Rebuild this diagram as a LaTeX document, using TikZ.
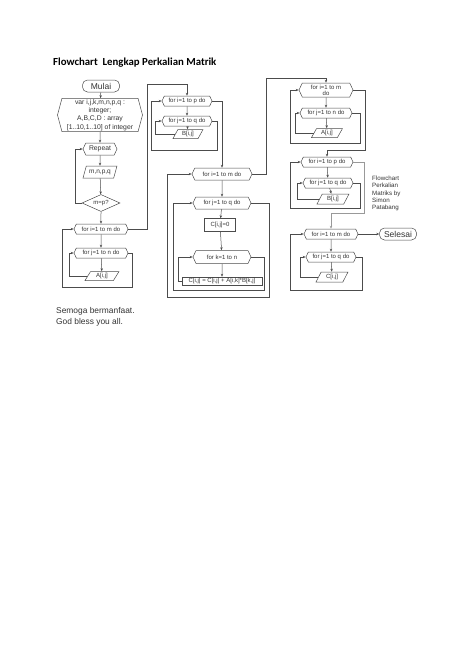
\documentclass[tikz,border=0pt]{standalone}
\usepackage{fontspec}
\setmainfont{Liberation Sans}
\newfontfamily\judulfont{Carlito}
\usetikzlibrary{arrows.meta, shapes.geometric, shapes.symbols}

\begin{document}
\begin{tikzpicture}[x=1pt, y=-1pt,
    garis/.style={draw=black!70, line width=0.5pt},
    panah/.style={garis, -{Stealth[length=3pt, width=2.4pt]}},
    terminal/.style={garis, rounded corners=5pt, minimum width=37pt, minimum height=12pt, inner sep=1pt, text=black!80, font=\fontsize{8.5}{9}\selectfont},
    ulang/.style={garis, signal, signal to=west and east, signal pointer angle=130, minimum width=54pt, minimum height=10pt, inner sep=0.8pt, align=center, text=black!80, font=\fontsize{6}{6.2}\selectfont},
    data/.style={garis, trapezium, trapezium left angle=65, trapezium right angle=115, trapezium stretches=true, minimum width=34pt, minimum height=9pt, inner sep=0.5pt, text=black!80, font=\fontsize{6}{6}\selectfont},
    proses/.style={garis, rectangle, inner sep=1.5pt, text=black!80, font=\fontsize{6}{6}\selectfont},
    cabang/.style={garis, diamond, aspect=2.3, minimum width=38pt, minimum height=17pt, inner sep=0pt, text=black!80, font=\fontsize{6}{6}\selectfont}
  ]
  \fill[white] (0,0) rectangle (474,670);
  \useasboundingbox (0,0) rectangle (474,670);

  \node[anchor=west, inner sep=0pt, font=\judulfont\bfseries\fontsize{10.8}{12}\selectfont] (judul) at (53,63) {Flowchart\ \ Lengkap Perkalian Matrik};

  % kolom 1 : baca A
  \node[terminal] (mulai) at (101,86) {Mulai};
  \node[ulang, signal pointer angle=150, minimum width=85pt, minimum height=30pt, align=center, font=\fontsize{6.8}{8.4}\selectfont] (deklarasi) at (100,115)
    {var i,j,k,m,n,p,q :\\integer;\\A,B,C,D : array\\{[1..10,1..10] of integer}};
  \node[ulang, minimum width=34pt, minimum height=12pt, font=\fontsize{6.8}{7}\selectfont] (repeat) at (100,149) {Repeat};
  \node[data, minimum height=12pt, font=\fontsize{6.5}{7}\selectfont] (input) at (100,172) {m,n,p,q};
  \node[cabang] (cek) at (101,203) {m=p?};
  \node[ulang] (forA1) at (101,229) {for i=1 to m do};
  \node[ulang] (forA2) at (101,253) {for j=1 to n do};
  \node[data] (bacaA) at (102,276) {A[i,j]};

  \draw[panah] (mulai) -- (deklarasi);
  \draw[panah] (deklarasi) -- (repeat);
  \draw[panah] (repeat) -- (input);
  \draw[panah] (input) -- (cek);
  \draw[panah] (cek) -- (forA1);
  \draw[panah] (cek.west) -- ++(-7,0) |- (repeat.west);
  \draw[panah] (forA1) -- (forA2);
  \draw[panah] (forA2) -- (bacaA);
  \draw[panah] (bacaA.west) -- ++(-18,0) |- (forA2.west);
  \draw[panah] (forA2.east) -- ++(4,0) |- ++(-70,34) |- (forA1.west);

  % kolom 2 : baca B
  \node[ulang, minimum width=50pt] (forB1) at (187,101) {for i=1 to p do};
  \node[ulang, minimum width=50pt] (forB2) at (187,121) {for j=1 to q do};
  \node[data, minimum width=30pt] (bacaB) at (188,134) {B[i,j]};

  \draw[panah] (forA1.east) -- ++(19,0) |- ([yshift=12pt]forB1.north) -- (forB1.north);
  \draw[panah] (forB1) -- (forB2);
  \draw[panah] (forB2) -- (bacaB);
  \draw[panah] (bacaB.west) -- ++(-20,0) |- (forB2.west);
  \draw[panah] (forB2.east) -- ++(5,0) |- ++(-66,29) |- (forB1.west);

  % kolom 2 : hitung C
  \node[ulang, minimum width=60pt, minimum height=12pt] (forC1) at (222,174) {for i=1 to m do};
  \node[ulang, minimum width=58pt, minimum height=12pt] (forC2) at (222,203) {for j=1 to q do};
  \node[proses, minimum width=31pt, minimum height=13pt] (nolC) at (220,225) {C[i,j]=0};
  \node[ulang, minimum width=58pt, minimum height=13pt] (forC3) at (222,257) {for k=1 to n};
  \node[proses, minimum width=80pt, minimum height=8pt, inner sep=0.8pt] (hitungC) at (222,281) {C[i,j] = C[i,j] + A[i,k]*B[k,j]};

  \draw[panah] (forB1.east) -| (forC1.north);
  \draw[panah] (forC1) -- (forC2);
  \draw[panah] (forC2) -- (nolC);
  \draw[panah] (nolC) -- (forC3);
  \draw[panah] (forC3) -- (hitungC);
  \draw[panah] (hitungC.west) -- ++(-4,0) |- (forC3.west);
  \draw[panah] (forC3.east) -- ++(13,0) |- ++(-91,33) |- (forC2.west);
  \draw[panah] (forC2.east) -- ++(18,0) |- ++(-102,94) |- (forC1.west);

  % kolom 3 : tulis A, B, C
  \node[ulang, minimum height=14pt, inner sep=0pt] (forD1) at (326,90) {for i=1 to m\\do};
  \node[ulang, minimum width=52pt] (forD2) at (326,113) {for j=1 to n do};
  \node[data, minimum width=31pt] (tulisA) at (327,133) {A[i,j]};

  \draw[panah] (forC1.east) -- ++(14,0) |- ([yshift=5pt]forD1.north) -- (forD1.north);
  \draw[panah] (forD1) -- (forD2);
  \draw[panah] (forD2) -- (tulisA);
  \draw[panah] (tulisA.west) -- ++(-19,0) |- (forD2.west);
  \draw[panah] (forD2.east) -- ++(8,0) |- ++(-70,30) |- (forD1.west);

  \node[ulang, minimum width=52pt] (forE1) at (327,162) {for i=1 to p do};
  \node[ulang, minimum width=50pt] (forE2) at (328,183) {for j=1 to q do};
  \node[data, minimum width=32pt, minimum height=10pt] (tulisB) at (333,199) {B[i,j]};

  \draw[panah] (forD1.east) -- ++(12,0) |- ([yshift=7pt]forE1.north) -- (forE1.north);
  \draw[panah] (forE1) -- (forE2);
  \draw[panah] (forE2) -- (tulisB);
  \draw[panah] (tulisB.west) -- ++(-22,0) |- (forE2.west);
  \draw[panah] (forE2.east) -- ++(7,0) |- ++(-70,25) |- (forE1.west);

  \node[ulang] (forF1) at (331,234) {for i=1 to m do};
  \node[terminal] (selesai) at (398,234) {Selesai};
  \node[ulang, minimum width=50pt] (forF2) at (331,257) {for j=1 to q do};
  \node[data, minimum width=32pt, minimum height=10pt] (tulisC) at (332,277) {C[i,j]};

  \draw[panah, draw=black!40] (forE1.east) -- ++(11,0) |- ([yshift=16pt]forF1.north) -- (forF1.north);
  \draw[panah] (forF1) -- (selesai);
  \draw[panah] (forF1) -- (forF2);
  \draw[panah] (forF2) -- (tulisC);
  \draw[panah] (tulisC.west) -- ++(-18,0) |- (forF2.west);
  \draw[panah] (forF2.east) -- ++(6,0) |- ++(-72,33) |- (forF1.west);

  \node[anchor=north west, align=left, inner sep=0pt, text=black!80, font=\fontsize{6.2}{7.3}\selectfont] (catatan) at (372,176)
    {Flowchart\\Perkalian\\Matriks by\\Simon\\Patabang};

  \node[anchor=north west, align=left, inner sep=0pt, text=black!80, font=\fontsize{8.4}{11.5}\selectfont] (penutup) at (56,307)
    {Semoga bermanfaat.\\God bless you all.};
\end{tikzpicture}
\end{document}
